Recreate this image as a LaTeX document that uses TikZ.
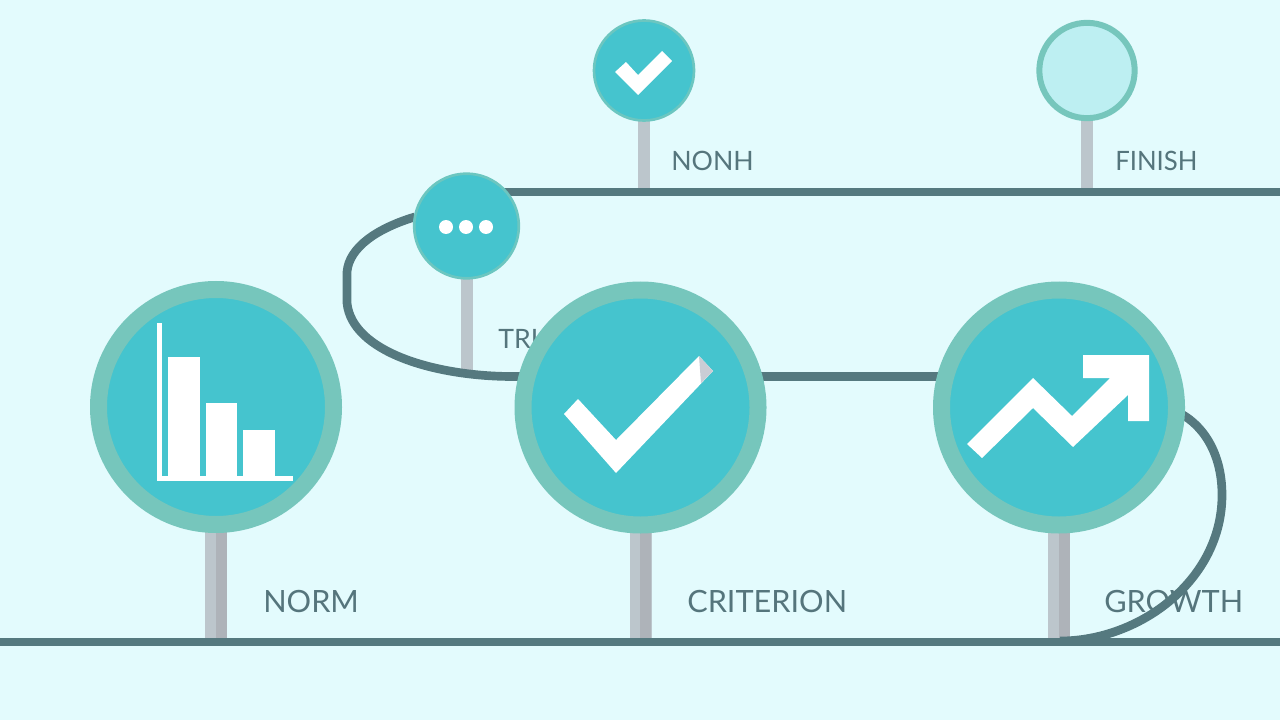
\documentclass[tikz,border=0pt]{standalone}
\usepackage{fontspec}
\setmainfont{Lato}
\definecolor{bgc}{HTML}{E3FBFD}
\definecolor{ringc}{HTML}{76C6BC}
\definecolor{innerc}{HTML}{45C4CE}
\definecolor{linec}{HTML}{55797F}
\definecolor{stemc}{HTML}{BCC6CC}
\definecolor{stemd}{HTML}{AEB3B9}
\definecolor{textc}{HTML}{55757C}
\definecolor{paleC}{HTML}{BDEFF2}
\definecolor{tipc}{HTML}{CACDD5}
\tikzset{
  x=0.75pt,y=-0.75pt,
  bigpin/.style={circle,inner sep=0pt,outer sep=0pt,minimum size=176.25pt,fill=innerc,draw=ringc,line width=12.75pt},
  smallpin/.style={circle,inner sep=0pt,outer sep=0pt,minimum size=75pt,fill=innerc,draw=ringc!80!innerc,line width=2pt},
  midpin/.style={circle,inner sep=0pt,outer sep=0pt,minimum size=78.5pt,fill=innerc,draw=ringc!80!innerc,line width=2pt},
  emptypin/.style={circle,inner sep=0pt,outer sep=0pt,minimum size=71.5pt,fill=paleC,draw=ringc,line width=4.5pt},
  track/.style={draw=linec,line width=6.5pt},
  bigstem/.style={draw=stemc,line width=16.5pt},
  bigstemd/.style={draw=stemd,line width=8.25pt},
  smallstem/.style={draw=stemc,line width=9pt},
  biglabel/.style={anchor=base west,inner sep=0pt,text=textc,font=\fontsize{23}{28}\selectfont},
  smalllabel/.style={anchor=base west,inner sep=0pt,text=textc,font=\fontsize{20}{24}\selectfont},
  icon/.style={fill=white,draw=none},
}
\begin{document}
\begin{tikzpicture}
\useasboundingbox (0,0) rectangle (1280,720);
\fill[bgc] (0,0) rectangle (1280,720);
% anchors
\coordinate (baseL) at (0,642);
\coordinate (baseR) at (1280,642);
\coordinate (topR) at (1280,192);
\coordinate (growmerge) at (1060,641);
% node placeholders for connector ends
\path (216,407) node[bigpin,draw=none,fill=none] (norm) {}
      (640.5,407.5) node[bigpin,draw=none,fill=none] (crit) {}
      (1059,407.5) node[bigpin,draw=none,fill=none] (grow) {}
      (644,70.5) node[smallpin,draw=none,fill=none] (check) {}
      (466.5,226) node[midpin,draw=none,fill=none] (dots) {}
      (1087,70.5) node[emptypin,draw=none,fill=none] (finish) {};
% stems
\draw[bigstem] (norm.center) -- (norm.center |- baseL);
\draw[bigstemd] ([xshift=4.1pt]norm.center) -- ([xshift=4.1pt]norm.center |- baseL);
\draw[bigstem] (crit.center) -- (crit.center |- baseL);
\draw[bigstemd] ([xshift=4.1pt]crit.center) -- ([xshift=4.1pt]crit.center |- baseL);
\draw[bigstem] (grow.center) -- (grow.center |- baseL);
\draw[bigstemd] ([xshift=4.1pt]grow.center) -- ([xshift=4.1pt]grow.center |- baseL);
\draw[smallstem] (check.center) -- (check.center |- topR);
\draw[smallstem] (dots.center) -- ++(0,149);
\draw[smallstem] (finish.center) -- (finish.center |- topR);
% labels
\node[biglabel] (lnorm) at (263,612) {NORM};
\node[biglabel] (lcrit) at (687,612) {CRITERION};
\node[biglabel] (lgrow) at (1104,612) {GROWTH};
\node[smalllabel] (lnonh) at (671,171) {NONH};
\node[smalllabel] (lfin) at (1115,171) {\scalebox{.965}[1]{FINISH}};
\node[smalllabel] (ltri) at (498,348) {TRI};
% connectors
\draw[track] (dots.center) ++(0,-34) -- (topR);
\draw[track] (crit.center) ++(0,-31) -- (grow.center |- 0,376.5);
\draw[track] (crit.center) ++(0,-31) -- (513,376.5)
  .. controls (435,376.5) and (352,352) .. (347,303)
  -- (347,272) .. controls (349,247) and (378,228) .. (dots.170);
\draw[track] (grow.-2) .. controls (1200,422) and (1222,450) .. (1222,495)
  .. controls (1222,580) and (1140,641) .. (growmerge);
\draw[track] (baseL) -- (baseR);
% pins
\node[bigpin] at (norm.center) {};
\node[bigpin] at (crit.center) {};
\node[bigpin] at (grow.center) {};
\node[smallpin] at (check.center) {};
\node[midpin] at (dots.center) {};
\node[emptypin] at (finish.center) {};
% bar chart icon
\fill[icon] (157,323) rectangle (162,481);
\fill[icon] (157,476) rectangle (293,481);
\fill[icon] (168,357) rectangle (200,476);
\fill[icon] (205.6,403) rectangle (237,476);
\fill[icon] (243,430) rectangle (275,476);
% big check
\fill[icon] (564,414) -- (578,399) -- (616,440) -- (699,356) -- (713,371) -- (616,473) -- cycle;
\fill[tipc] (699,356) -- (713,371) -- (701,383) -- cycle;
% growth arrow
\fill[icon] (967,444) -- (1033,378) -- (1072,416) -- (1110,378) -- (1083,378) -- (1083,355) -- (1149,355) -- (1149,421) -- (1128,421) -- (1128,395) -- (1073,447) -- (1033,408) -- (982,458) -- cycle;
% small check
\fill[icon] (615,72) -- (626,62) -- (638,75) -- (662,51) -- (672,61) -- (638,95) -- cycle;
% dots
\fill[icon] (446,227) circle[radius=7];
\fill[icon] (466,227) circle[radius=7];
\fill[icon] (486,227) circle[radius=7];
\end{tikzpicture}
\end{document}
